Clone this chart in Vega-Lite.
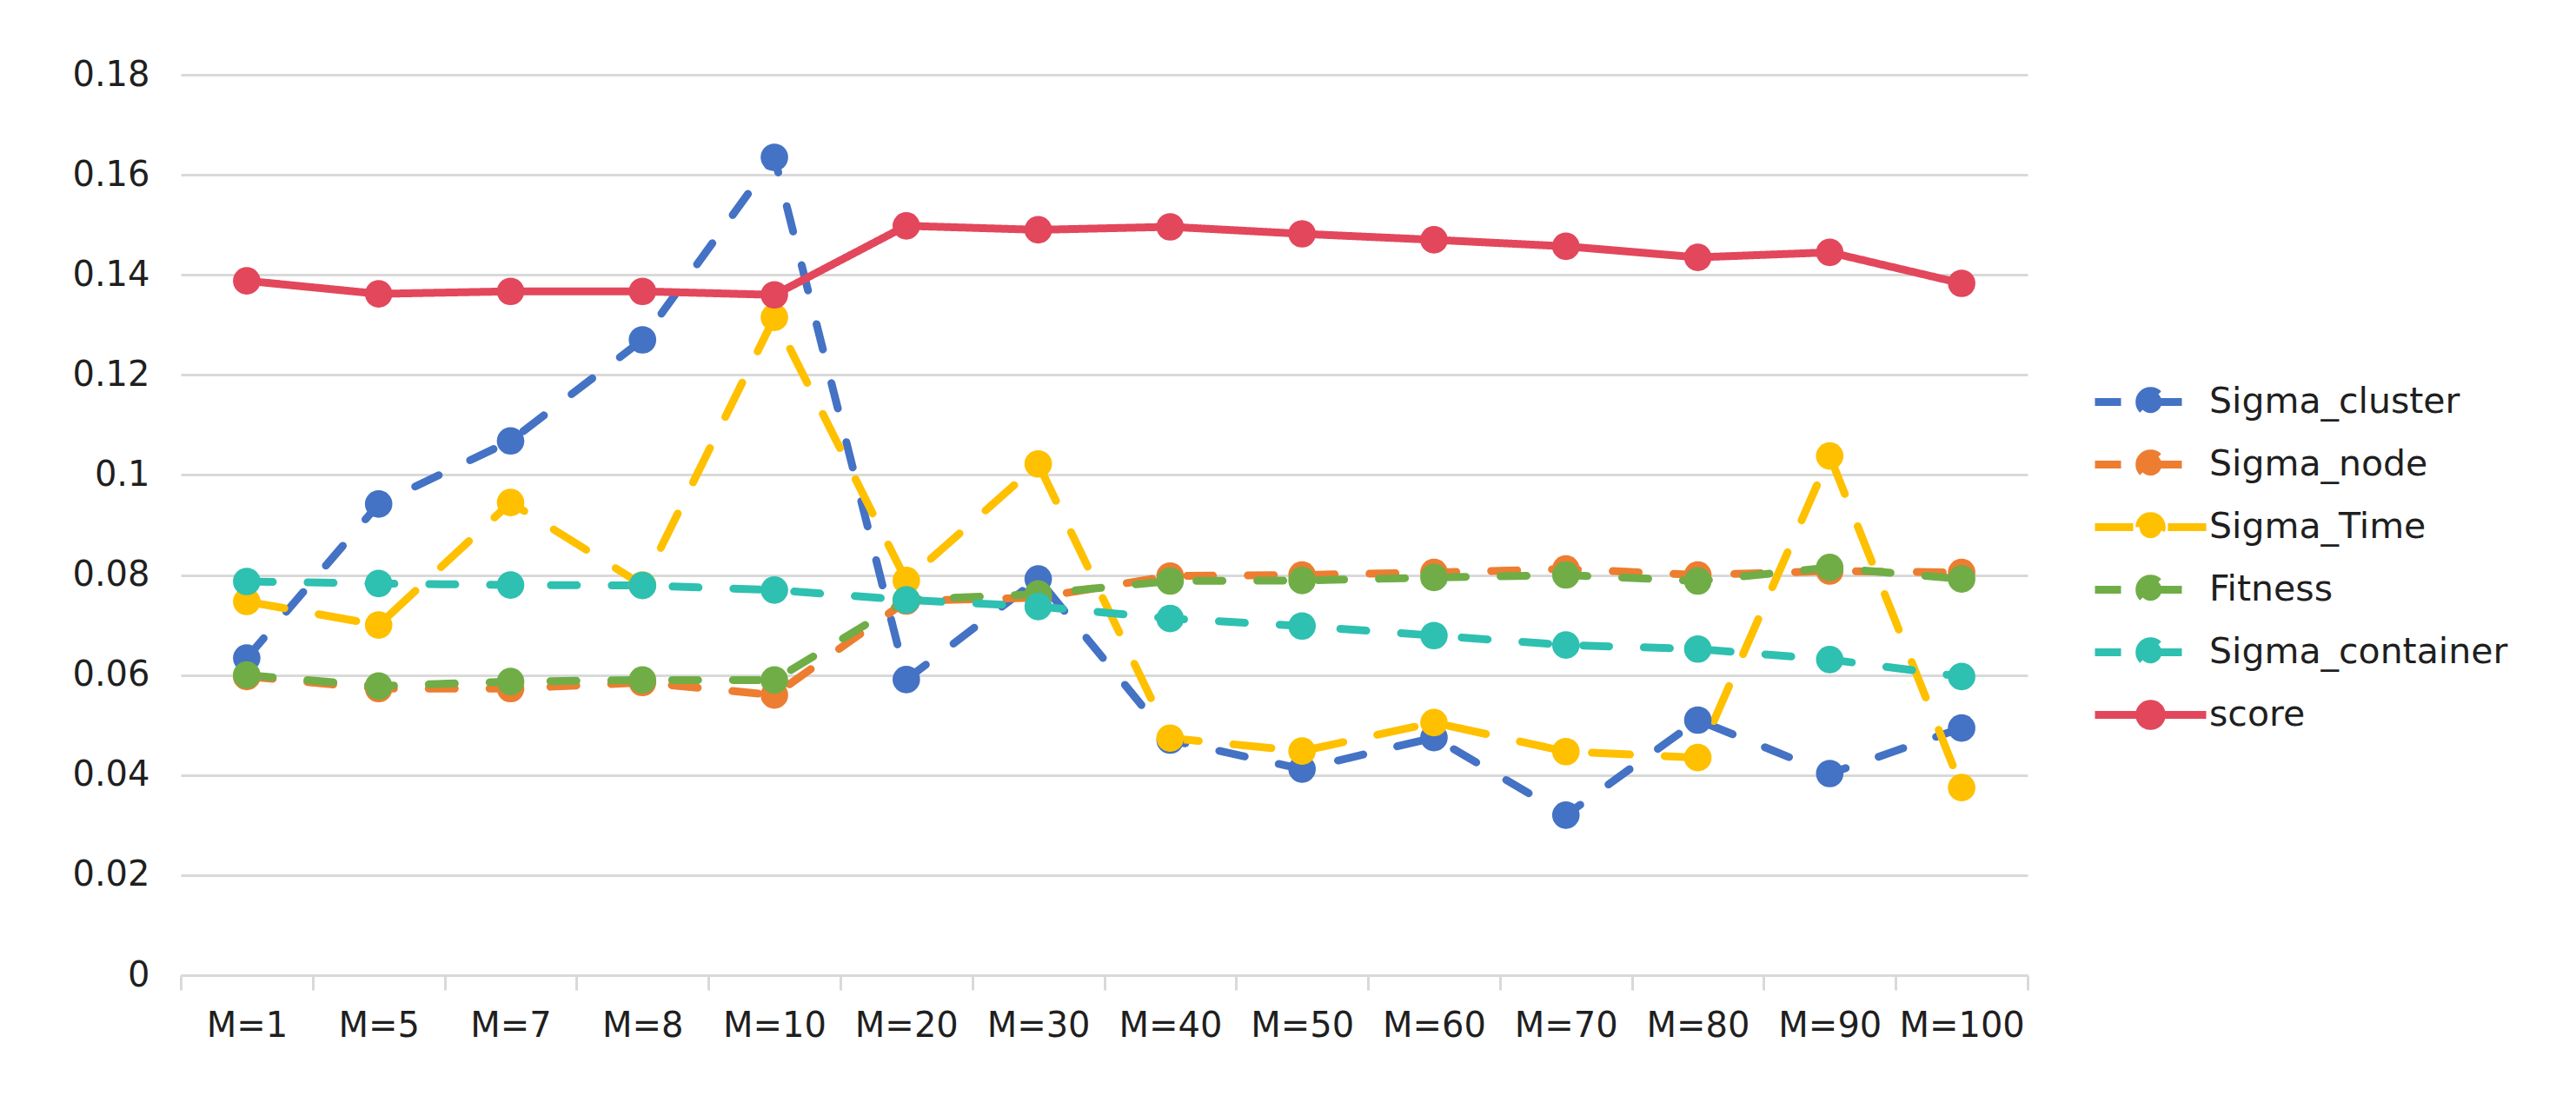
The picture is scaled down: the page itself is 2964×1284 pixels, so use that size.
{
  "$schema": "https://vega.github.io/schema/vega-lite/v6.json",
  "autosize": {"type": "none"},
  "width": 2125,
  "height": 1036,
  "padding": {"left": 208, "top": 86, "right": 631, "bottom": 162},
  "background": "white",
  "config": {
    "view": {"stroke": null},
    "font": "DejaVu Sans"
  },
  "data": {
    "values": [
      {"M": "M=1", "series": "Sigma_cluster", "v": 0.0634},
      {"M": "M=5", "series": "Sigma_cluster", "v": 0.0942},
      {"M": "M=7", "series": "Sigma_cluster", "v": 0.1068},
      {"M": "M=8", "series": "Sigma_cluster", "v": 0.1270},
      {"M": "M=10", "series": "Sigma_cluster", "v": 0.1635},
      {"M": "M=20", "series": "Sigma_cluster", "v": 0.0591},
      {"M": "M=30", "series": "Sigma_cluster", "v": 0.0792},
      {"M": "M=40", "series": "Sigma_cluster", "v": 0.0470},
      {"M": "M=50", "series": "Sigma_cluster", "v": 0.0412},
      {"M": "M=60", "series": "Sigma_cluster", "v": 0.0475},
      {"M": "M=70", "series": "Sigma_cluster", "v": 0.0320},
      {"M": "M=80", "series": "Sigma_cluster", "v": 0.0510},
      {"M": "M=90", "series": "Sigma_cluster", "v": 0.0403},
      {"M": "M=100", "series": "Sigma_cluster", "v": 0.0494},

      {"M": "M=1", "series": "Sigma_node", "v": 0.0597},
      {"M": "M=5", "series": "Sigma_node", "v": 0.0573},
      {"M": "M=7", "series": "Sigma_node", "v": 0.0573},
      {"M": "M=8", "series": "Sigma_node", "v": 0.0585},
      {"M": "M=10", "series": "Sigma_node", "v": 0.0560},
      {"M": "M=20", "series": "Sigma_node", "v": 0.0748},
      {"M": "M=30", "series": "Sigma_node", "v": 0.0755},
      {"M": "M=40", "series": "Sigma_node", "v": 0.0798},
      {"M": "M=50", "series": "Sigma_node", "v": 0.0800},
      {"M": "M=60", "series": "Sigma_node", "v": 0.0805},
      {"M": "M=70", "series": "Sigma_node", "v": 0.0812},
      {"M": "M=80", "series": "Sigma_node", "v": 0.0800},
      {"M": "M=90", "series": "Sigma_node", "v": 0.0808},
      {"M": "M=100", "series": "Sigma_node", "v": 0.0805},

      {"M": "M=1", "series": "Sigma_Time", "v": 0.0747},
      {"M": "M=5", "series": "Sigma_Time", "v": 0.0700},
      {"M": "M=7", "series": "Sigma_Time", "v": 0.0945},
      {"M": "M=8", "series": "Sigma_Time", "v": 0.0780},
      {"M": "M=10", "series": "Sigma_Time", "v": 0.1315},
      {"M": "M=20", "series": "Sigma_Time", "v": 0.0789},
      {"M": "M=30", "series": "Sigma_Time", "v": 0.1022},
      {"M": "M=40", "series": "Sigma_Time", "v": 0.0474},
      {"M": "M=50", "series": "Sigma_Time", "v": 0.0448},
      {"M": "M=60", "series": "Sigma_Time", "v": 0.0505},
      {"M": "M=70", "series": "Sigma_Time", "v": 0.0447},
      {"M": "M=80", "series": "Sigma_Time", "v": 0.0435},
      {"M": "M=90", "series": "Sigma_Time", "v": 0.1038},
      {"M": "M=100", "series": "Sigma_Time", "v": 0.0375},

      {"M": "M=1", "series": "Fitness", "v": 0.0600},
      {"M": "M=5", "series": "Fitness", "v": 0.0578},
      {"M": "M=7", "series": "Fitness", "v": 0.0587},
      {"M": "M=8", "series": "Fitness", "v": 0.0590},
      {"M": "M=10", "series": "Fitness", "v": 0.0590},
      {"M": "M=20", "series": "Fitness", "v": 0.0750},
      {"M": "M=30", "series": "Fitness", "v": 0.0762},
      {"M": "M=40", "series": "Fitness", "v": 0.0788},
      {"M": "M=50", "series": "Fitness", "v": 0.0789},
      {"M": "M=60", "series": "Fitness", "v": 0.0795},
      {"M": "M=70", "series": "Fitness", "v": 0.0800},
      {"M": "M=80", "series": "Fitness", "v": 0.0788},
      {"M": "M=90", "series": "Fitness", "v": 0.0815},
      {"M": "M=100", "series": "Fitness", "v": 0.0792},

      {"M": "M=1", "series": "Sigma_container", "v": 0.0787},
      {"M": "M=5", "series": "Sigma_container", "v": 0.0783},
      {"M": "M=7", "series": "Sigma_container", "v": 0.0780},
      {"M": "M=8", "series": "Sigma_container", "v": 0.0779},
      {"M": "M=10", "series": "Sigma_container", "v": 0.0770},
      {"M": "M=20", "series": "Sigma_container", "v": 0.0750},
      {"M": "M=30", "series": "Sigma_container", "v": 0.0737},
      {"M": "M=40", "series": "Sigma_container", "v": 0.0713},
      {"M": "M=50", "series": "Sigma_container", "v": 0.0698},
      {"M": "M=60", "series": "Sigma_container", "v": 0.0679},
      {"M": "M=70", "series": "Sigma_container", "v": 0.0660},
      {"M": "M=80", "series": "Sigma_container", "v": 0.0652},
      {"M": "M=90", "series": "Sigma_container", "v": 0.0631},
      {"M": "M=100", "series": "Sigma_container", "v": 0.0597},

      {"M": "M=1", "series": "score", "v": 0.1388},
      {"M": "M=5", "series": "score", "v": 0.1362},
      {"M": "M=7", "series": "score", "v": 0.1367},
      {"M": "M=8", "series": "score", "v": 0.1367},
      {"M": "M=10", "series": "score", "v": 0.1360},
      {"M": "M=20", "series": "score", "v": 0.1498},
      {"M": "M=30", "series": "score", "v": 0.1490},
      {"M": "M=40", "series": "score", "v": 0.1496},
      {"M": "M=50", "series": "score", "v": 0.1482},
      {"M": "M=60", "series": "score", "v": 0.1470},
      {"M": "M=70", "series": "score", "v": 0.1457},
      {"M": "M=80", "series": "score", "v": 0.1435},
      {"M": "M=90", "series": "score", "v": 0.1445},
      {"M": "M=100", "series": "score", "v": 0.1383}
    ]
  },
  "encoding": {
    "x": {
      "field": "M",
      "type": "nominal",
      "sort": null,
      "scale": {"paddingInner": 0, "paddingOuter": 0},
      "axis": {
        "title": null,
        "labelAngle": 0,
        "labelFont": "DejaVu Sans",
        "labelFontSize": 40,
        "labelColor": "#1f1f1f",
        "labelPadding": 21,
        "domainColor": "#d9d9d9",
        "domainWidth": 3,
        "tickColor": "#d9d9d9",
        "tickWidth": 3,
        "tickSize": 17,
        "tickBand": "extent",
        "grid": false
      }
    },
    "y": {
      "field": "v",
      "type": "quantitative",
      "scale": {"domain": [0, 0.18], "nice": false, "zero": true},
      "axis": {
        "title": null,
        "values": [0, 0.02, 0.04, 0.06, 0.08, 0.1, 0.12, 0.14, 0.16, 0.18],
        "format": "~g",
        "labelFont": "DejaVu Sans",
        "labelFontSize": 40,
        "labelColor": "#1f1f1f",
        "labelPadding": 36,
        "domain": false,
        "ticks": false,
        "grid": true,
        "gridColor": "#d9d9d9",
        "gridWidth": 3
      }
    },
    "color": {
      "field": "series",
      "type": "nominal",
      "scale": {
        "domain": ["Sigma_cluster", "Sigma_node", "Sigma_Time", "Fitness", "Sigma_container", "score"],
        "range": ["#4472C4", "#ED7D31", "#FFC000", "#70AD47", "#2EC0B0", "#E2475C"]
      },
      "legend": {
        "title": null,
        "orient": "none",
        "legendX": 2246,
        "legendY": 356,
        "padding": 0,
        "symbolType": "M-4,0L4,0M-0.8,0A0.8,0.8,0,1,1,0.8,0A0.8,0.8,0,1,1,-0.8,0Z",
        "symbolSize": 1024,
        "symbolStrokeWidth": 9,
        "labelFont": "DejaVu Sans",
        "labelFontSize": 41,
        "labelColor": "#1f1f1f",
        "labelOffset": 47,
        "rowPadding": 9,
        "labelLimit": 600,
        "encode": {
          "symbols": {
            "update": {
              "fill": {"scale": "color", "field": "value"},
              "stroke": {"scale": "color", "field": "value"},
              "strokeWidth": {"value": 9},
              "opacity": {"value": 1}
            }
          }
        }
      }
    }
  },
  "layer": [
    {
      "mark": {"type": "line", "strokeCap": "round", "strokeJoin": "round"},
      "encoding": {
        "strokeDash": {
          "field": "series",
          "type": "nominal",
          "scale": {
            "domain": ["Sigma_cluster", "Sigma_node", "Sigma_Time", "Fitness", "Sigma_container", "score"],
            "range": [[30, 40], [30, 40], [44, 40], [30, 40], [30, 40], [1, 0]]
          },
          "legend": null
        },
        "strokeWidth": {
          "field": "series",
          "type": "nominal",
          "scale": {
            "domain": ["Sigma_cluster", "Sigma_node", "Sigma_Time", "Fitness", "Sigma_container", "score"],
            "range": [9, 9, 11, 9, 9, 13]
          },
          "legend": null
        }
      }
    },
    {
      "mark": {"type": "point", "shape": "circle", "filled": true, "size": 1000, "opacity": 1, "strokeWidth": 0}
    }
  ]
}
